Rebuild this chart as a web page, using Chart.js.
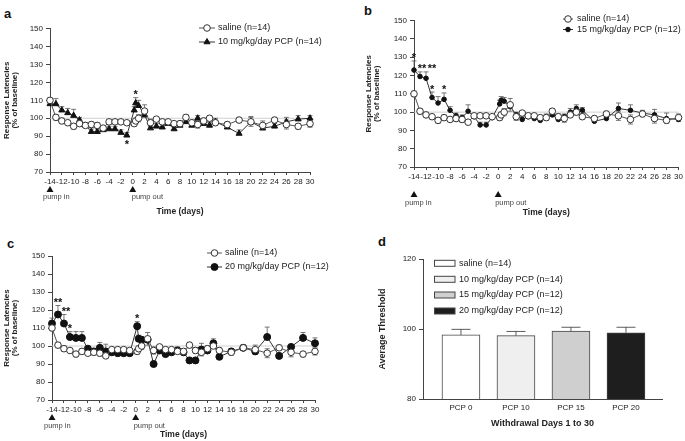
<!DOCTYPE html>
<html>
<head>
<meta charset="utf-8">
<script src="https://cdn.jsdelivr.net/npm/chart.js@4.4.1/dist/chart.umd.min.js"></script>
<style>
  body { margin: 0; background: #fff; width: 685px; height: 441px; position: relative; overflow: hidden; }
  canvas { position: absolute; }
  .tag { position: absolute; font: bold 13px/1 "Liberation Sans", Arial, sans-serif; color: #111; }
</style>
</head>
<body>
<div class="tag" style="left:4px;top:7px">a</div>
<div class="tag" style="left:364px;top:4px">b</div>
<div class="tag" style="left:7px;top:237px">c</div>
<div class="tag" style="left:378px;top:235px">d</div>
<canvas id="chartA" width="340" height="220" style="left:0;top:0"></canvas>
<canvas id="chartB" width="345" height="220" style="left:340px;top:0"></canvas>
<canvas id="chartC" width="345" height="221" style="left:0;top:220px"></canvas>
<canvas id="chartD" width="345" height="221" style="left:340px;top:220px"></canvas>
<script>
const FF = '"Liberation Sans", Arial, Helvetica, sans-serif';
Chart.defaults.font.family = FF;
Chart.defaults.color = '#222';

// time points (days) and the three groups
const days = [-14,-13,-12,-11,-10,-9,-8,-7,-6,-5,-4,-3,-2,-1,0.25,0.5,1,2,3,4,5,6,7,8,9,10,11,12,13,14,16,18,20,22,24,26,28,30];
const saline    = [110,100.5,98.5,97.5,95.5,97,96,96.5,96,94.5,98,98,98,97.5,97,98.5,100,104,97.5,99.5,98,98,97,97,100.5,97.5,96.5,98.5,100,97.5,96.5,99,98,96,99,96.5,95.5,97];
const salineErr = [1.5,1.5,1.5,1.2,1.5,1.5,1.2,1.5,1.5,1.2,1,1,1,1,1.5,1.5,2,3.5,2,1,1,1,1,1.5,1.5,1.5,2,1.5,1.5,1.5,1.5,1.5,2.5,2.5,1.5,2.5,1.5,2];
const pcp10     = [108,108,104.5,103,101.5,99,96,92.5,92.5,93.5,94,94,92,90.5,104.5,108.5,107,102,94.5,95.5,95,97,94,96,98,96,100,97,96,98,95,91.5,98,94.5,95.5,98,99.5,100];
const pcp10Err  = [2,3,2,2.5,3.5,1.5,1.5,1.5,1.5,1.5,1.5,1.5,1.5,1.5,2,3,3,2,1.5,1.5,1.5,1.5,1.5,1.5,1.5,1.5,1.5,1.5,1.5,2,1.5,2,3,1.5,1.5,2.5,2,1.5];
const pcp15     = [123,119.5,118.5,108,105,107,101,98,97,100.5,97.5,93,93,97,104.5,106.5,106,103,98.5,96,97.5,96.5,95.5,97.5,98.5,96,97.5,100,102,101,95,96.5,102,101,99.5,98.5,96.5,96];
const pcp15Err  = [5,2.5,3.5,3,3.5,3.5,2,1.5,1.5,3.5,1.5,1.5,1.5,1.5,2,2,2,2,1.5,1.5,1.5,1.5,1.5,1.5,1.5,1.5,1.5,2,2,1.5,1.5,1.5,3,3,1.5,3,3,2];
const pcp20     = [112.5,117.5,112.5,105,104.5,104.5,98.5,97,99,97,96.5,96,96,96,111,104,103.5,103.5,90,97.5,95.5,96.5,97.5,96.5,92,92,98,97.5,101.5,94,97,99,97,105,94.5,99.5,104.5,101.5];
const pcp20Err  = [3,5,5,3,3.5,3.5,1.5,1.5,3,4,1.5,1.5,1.5,1.5,2.5,2,1.5,1.5,1.5,1.5,1.5,1.5,2,2,1.5,1.5,3.5,1.5,2.5,1.5,1.5,1.5,1.5,5.5,1.5,1,3,3];

const pumpDays = [-14, 0];
const pumpLabels = ['pump in', 'pump out'];

const starDaysA = [0.5, -1],  starMarksA = ['*', '*'], starBelowA = [false, true];
const starDaysB = [-14, -13, -12, -11, -9], starMarksB = ['*', '**', '**', '*', '*'];
const starDaysC = [-13, -12, -11, 0.25], starMarksC = ['**', '**', '*', '*'];

// panel d
const barLabels = ['PCP 0', 'PCP 10', 'PCP 15', 'PCP 20'];
const barValues = [98.3, 98.1, 99.4, 98.9];
const barErr    = [1.6, 1.2, 1.1, 1.6];
const barNames  = ['saline (n=14)', '10 mg/kg/day PCP (n=14)', '15 mg/kg/day PCP (n=12)', '20 mg/kg/day PCP (n=12)'];
const barColors = ['#ffffff', '#efefef', '#cfcfcf', '#1e1e1e'];

function pts(vals) {
  return days.map((d, i) => ({ x: d, y: vals[i] }));
}

function makeDecor(cfg) {
  return {
    id: 'decor',
    beforeDatasetsDraw(chart) {
      const { ctx, chartArea: a, scales: { x, y } } = chart;
      ctx.save();
      if (cfg.refLine) {
        const py = y.getPixelForValue(cfg.refLine);
        ctx.strokeStyle = '#cfcfcf';
        ctx.lineWidth = 1;
        ctx.beginPath(); ctx.moveTo(a.left, py); ctx.lineTo(a.right, py); ctx.stroke();
      }
      chart.data.datasets.forEach(ds => {
        if (!ds.errors) return;
        ctx.strokeStyle = ds.errColor || '#555';
        ctx.lineWidth = 0.8;
        ds.data.forEach((p, j) => {
          const e = ds.errors[j];
          const px = x.getPixelForValue(p.x);
          const top = y.getPixelForValue(p.y + e);
          const bot = y.getPixelForValue(ds.errBoth ? p.y - e : p.y);
          const w = ds.capWidth;
          ctx.beginPath();
          ctx.moveTo(px, bot); ctx.lineTo(px, top);
          ctx.moveTo(px - w / 2, top); ctx.lineTo(px + w / 2, top);
          if (ds.errBoth) { ctx.moveTo(px - w / 2, bot); ctx.lineTo(px + w / 2, bot); }
          ctx.stroke();
        });
      });
      ctx.restore();
    },
    afterDraw(chart) {
      const { ctx, chartArea: a, scales: { x, y } } = chart;
      ctx.save();
      // line legend
      if (cfg.legend) {
        const L = cfg.legend;
        chart.data.datasets.forEach((ds, i) => {
          const yy = L.rows[i];
          ctx.strokeStyle = ds.borderColor; ctx.lineWidth = 1;
          ctx.beginPath(); ctx.moveTo(L.x0, yy); ctx.lineTo(L.x1, yy); ctx.stroke();
          ctx.fillStyle = ds.pointBackgroundColor;
          ctx.strokeStyle = ds.pointBorderColor;
          ctx.lineWidth = ds.pointBorderWidth;
          Chart.helpers.drawPoint(ctx, { pointStyle: ds.pointStyle, radius: ds.pointRadius, borderWidth: ds.pointBorderWidth, rotation: 0 }, (L.x0 + L.x1) / 2, yy);
          ctx.fillStyle = '#222';
          ctx.font = '9px ' + FF;
          ctx.textAlign = 'left'; ctx.textBaseline = 'middle';
          ctx.fillText(ds.label, L.tx, yy);
        });
      }
      // bar legend
      if (cfg.boxLegend) {
        const L = cfg.boxLegend;
        barNames.forEach((name, i) => {
          const yy = L.rows[i];
          ctx.fillStyle = barColors[i];
          ctx.fillRect(L.x, yy - 3, 21, 6);
          ctx.strokeStyle = '#444'; ctx.lineWidth = 1;
          ctx.strokeRect(L.x + 0.5, yy - 3, 20.5, 6);
          ctx.fillStyle = '#222';
          ctx.font = '9px ' + FF;
          ctx.textAlign = 'left'; ctx.textBaseline = 'middle';
          ctx.fillText(name, L.tx, yy);
        });
      }
      // pump in / pump out markers
      if (cfg.pump) {
        pumpDays.forEach((d, k) => {
          const px = x.getPixelForValue(d);
          const t = a.bottom + cfg.pump.arrow;
          ctx.fillStyle = '#111';
          ctx.beginPath(); ctx.moveTo(px, t); ctx.lineTo(px + 3.5, t + 6); ctx.lineTo(px - 3.5, t + 6); ctx.closePath(); ctx.fill();
          ctx.fillStyle = '#444';
          ctx.font = '7.5px ' + FF;
          ctx.textAlign = 'left'; ctx.textBaseline = 'middle';
          ctx.fillText(pumpLabels[k], px + cfg.pump.shift[k], a.bottom + cfg.pump.text);
        });
      }
      // significance stars
      if (cfg.stars) {
        const s = cfg.stars;
        const ds = chart.data.datasets[1];
        ctx.fillStyle = '#111';
        ctx.font = 'bold 11px ' + FF;
        ctx.textAlign = 'center';
        s.days.forEach((d, k) => {
          const j = days.indexOf(d);
          const px = x.getPixelForValue(d) + (s.nudge ? s.nudge[k] : 0);
          if (s.below && s.below[k]) {
            ctx.textBaseline = 'top';
            ctx.fillText(s.marks[k], px, y.getPixelForValue(ds.data[j].y) + 4);
          } else {
            ctx.textBaseline = 'alphabetic';
            ctx.fillText(s.marks[k], px, y.getPixelForValue(ds.data[j].y + ds.errors[j]) + 0.5);
          }
        });
      }
      ctx.restore();
    }
  };
}

function lineScales(L) {
  return {
    x: {
      type: 'linear', min: -14, max: 30,
      ticks: { stepSize: 2, autoSkip: false, maxRotation: 0, padding: 2, color: '#222', font: { size: 8 } },
      grid: { drawOnChartArea: false, tickLength: 3, color: '#444' },
      border: { color: '#444' },
      title: { display: true, text: 'Time (days)', color: '#222', font: { size: 8.5, weight: 'bold' }, padding: { top: 0, bottom: L.xTitlePad } },
      afterFit(s) { s.height = L.xh; }
    },
    y: {
      min: 70, max: 150,
      ticks: { stepSize: 10, padding: 3, color: '#222', font: { size: 8 } },
      grid: { drawOnChartArea: false, tickLength: 4, color: '#444' },
      border: { color: '#444' },
      title: { display: true, text: ['Response Latencies', '(% of baseline)'], color: '#222', font: { size: 8, weight: 'bold', lineHeight: 1 }, padding: { top: L.yTitlePad, bottom: 0 } },
      afterFit(s) { s.width = L.yw; }
    }
  };
}

function salineSet() {
  return {
    label: 'saline (n=14)', data: pts(saline), errors: salineErr, errBoth: true, capWidth: 5,
    borderColor: '#555', borderWidth: 1, pointStyle: 'circle', pointRadius: 3.3,
    pointBackgroundColor: '#fff', pointBorderColor: '#333', pointBorderWidth: 1, clip: false
  };
}

function lineChart(id, pcpSet, L) {
  new Chart(document.getElementById(id), {
    type: 'line',
    data: { datasets: [salineSet(), Object.assign({ borderColor: '#333', borderWidth: 1, pointBackgroundColor: '#111', pointBorderColor: '#111', pointBorderWidth: 1, capWidth: 5, clip: false }, pcpSet)] },
    options: {
      responsive: false, animation: false, devicePixelRatio: 1,
      layout: { padding: L.padding },
      plugins: { legend: { display: false }, tooltip: { enabled: false } },
      scales: lineScales(L)
    },
    plugins: [makeDecor(L.decor)]
  });
}

lineChart('chartA',
  { label: '10 mg/kg/day PCP (n=14)', data: pts(pcp10), errors: pcp10Err, pointStyle: 'triangle', pointRadius: 3.5 },
  { padding: { top: 28.7, right: 30, left: 0, bottom: 0 }, yw: 50, xh: 48, xTitlePad: 2.9, yTitlePad: 3,
    decor: { refLine: 100, legend: { x0: 199, x1: 215, tx: 218, rows: [28, 42] },
             pump: { arrow: 14, text: 25, shift: [-7, -1] },
             stars: { days: starDaysA, marks: starMarksA, below: starBelowA } } });

lineChart('chartB',
  { label: '15 mg/kg/day PCP (n=12)', data: pts(pcp15), errors: pcp15Err, pointStyle: 'circle', pointRadius: 2.3 },
  { padding: { top: 20.7, right: 6, left: 20, bottom: 0 }, yw: 54, xh: 53, xTitlePad: 1.9, yTitlePad: 5,
    decor: { refLine: 100, legend: { x0: 223, x1: 233, tx: 237, rows: [19, 29.5] },
             pump: { arrow: 24, text: 36, shift: [-9, -3] },
             stars: { days: starDaysB, marks: starMarksB, nudge: [0, 2, 6, 0, 0] } } });

lineChart('chartC',
  { label: '20 mg/kg/day PCP (n=12)', data: pts(pcp20), errors: pcp20Err, pointStyle: 'circle', pointRadius: 3.5 },
  { padding: { top: 36, right: 30, left: 0, bottom: 0 }, yw: 52, xh: 41, xTitlePad: 1.6, yTitlePad: 3,
    decor: { refLine: 100, legend: { x0: 207, x1: 222, tx: 225, rows: [33, 47] },
             pump: { arrow: 14, text: 26, shift: [-8, -2] },
             stars: { days: starDaysC, marks: starMarksC, nudge: [0, 2, 0, 0] } } });

new Chart(document.getElementById('chartD'), {
  type: 'bar',
  data: {
    datasets: [{
      data: barValues.map((v, i) => ({ x: i + 1, y: v })),
      errors: barErr, capWidth: 19, errColor: '#333',
      backgroundColor: barColors, borderColor: '#444', borderWidth: 1, barThickness: 38
    }]
  },
  options: {
    responsive: false, animation: false, devicePixelRatio: 1,
    layout: { padding: { top: 39, right: 23, left: 30, bottom: 0 } },
    plugins: { legend: { display: false }, tooltip: { enabled: false } },
    scales: {
      x: {
        type: 'linear', min: 0.31, max: 4.655, offset: false,
        afterBuildTicks(s) { s.ticks = barLabels.map((l, i) => ({ value: i + 1 })); },
        ticks: { callback: (v, i) => barLabels[i], padding: 4, color: '#222', font: { size: 8 }, maxRotation: 0 },
        grid: { display: true, drawOnChartArea: false, drawTicks: false, offset: false },
        border: { color: '#444' },
        title: { display: true, text: 'Withdrawal Days 1 to 30', color: '#222', font: { size: 9, weight: 'bold' }, padding: { top: 0, bottom: 11.6 } },
        afterFit(s) { s.height = 42; }
      },
      y: {
        min: 80, max: 120,
        ticks: { stepSize: 20, padding: 3, color: '#222', font: { size: 8 } },
        grid: { drawOnChartArea: false, tickLength: 4, color: '#444' },
        border: { color: '#444' },
        title: { display: true, text: 'Average Threshold', color: '#222', font: { size: 9, weight: 'bold', lineHeight: 1 }, padding: { top: 8.5, bottom: 0 } },
        afterFit(s) { s.width = 53; }
      }
    }
  },
  plugins: [makeDecor({ boxLegend: { x: 94, tx: 119, rows: [43.3, 59.3, 75, 91] } })]
});
</script>
</body>
</html>
